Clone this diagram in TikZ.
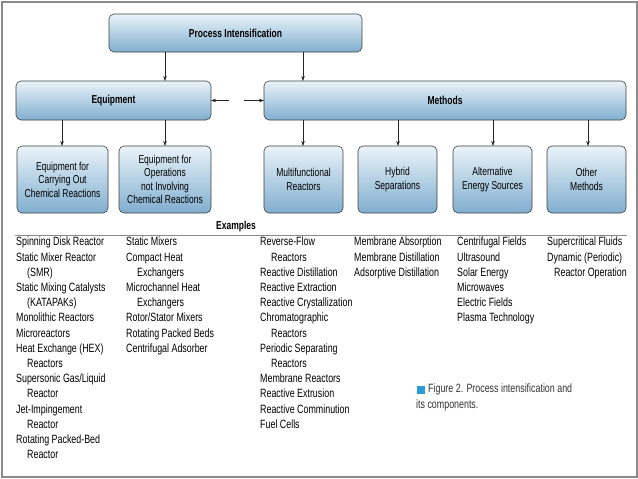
\documentclass[tikz,border=0pt]{standalone}
\usepackage{fontspec}
\setmainfont{Liberation Sans}[FakeStretch=0.74]
\usetikzlibrary{arrows.meta}
\definecolor{frm}{HTML}{8A8A8A}
\definecolor{btop}{HTML}{EAF3F9}
\definecolor{bbot}{HTML}{80AECF}
\definecolor{capblue}{HTML}{2E9BD6}
\begin{document}
\begin{tikzpicture}[x=1pt,y=-1pt,
  box/.style={draw=black!75,line width=0.6pt,rounded corners=5pt,top color=btop,bottom color=bbot,
    anchor=north west,inner sep=0pt,outer sep=0pt,align=center,font=\fontsize{11.5}{13.5}\selectfont},
  hdr/.style={box,font=\fontsize{11.5}{13.5}\selectfont\bfseries},
  arr/.style={-{Stealth[length=5pt,width=3.5pt]},line width=0.5pt,black!85},
  lst/.style={anchor=north west,inner sep=0pt,align=left,font=\fontsize{12}{15.2}\selectfont}]
\useasboundingbox (0,0) rectangle (638,479);
\fill[white] (0,0) rectangle (638,479);
\draw[frm,line width=2pt] (1.5,1.5) rectangle (636.5,477);
\node[hdr,minimum width=253,minimum height=38] (pi) at (109,14) {Process Intensification};
\node[hdr,minimum width=195,minimum height=39] (eq) at (16,81) {Equipment};
\node[hdr,minimum width=362,minimum height=39] (me) at (264,81) {Methods};
\node[box,minimum width=91,minimum height=67] (b1) at (17,146) {Equipment for\\Carrying Out\\Chemical Reactions};
\node[box,minimum width=92,minimum height=67] (b2) at (119,146) {Equipment for\\Operations\\not Involving\\Chemical Reactions};
\node[box,minimum width=79,minimum height=67] (b3) at (264,146) {Multifunctional\\Reactors};
\node[box,minimum width=79,minimum height=67] (b4) at (358,146) {Hybrid\\Separations};
\node[box,minimum width=79,minimum height=67] (b5) at (453,146) {Alternative\\Energy Sources};
\node[box,minimum width=79,minimum height=67] (b6) at (547,146) {Other\\Methods};
\draw[arr] (165,52) -- (165,81);
\draw[arr] (303,52) -- (303,81);
\coordinate (dl) at (229,100.5);
\coordinate (dr) at (244,100.5);
\draw[arr] (dl) -- (eq.east);
\draw[arr] (dr) -- (me.west);
\draw[arr] (62,120) -- (62,146);
\draw[arr] (165,120) -- (165,146);
\draw[arr] (303,120) -- (303,146);
\draw[arr] (398,120) -- (398,146);
\draw[arr] (493,120) -- (493,146);
\draw[arr] (588,120) -- (588,146);
\node[anchor=south,inner sep=0pt,font=\fontsize{11.5}{13.5}\selectfont\bfseries] (ex) at (236,232) {Examples};
\draw[frm,line width=1pt] (15,235) -- (627,235);
\def\ind{\hspace*{11pt}}
\node[lst] (c1) at (16,237) {Spinning Disk Reactor\\Static Mixer Reactor\\\ind(SMR)\\Static Mixing Catalysts\\\ind(KATAPAKs)\\Monolithic Reactors\\Microreactors\\Heat Exchange (HEX)\\\ind Reactors\\Supersonic Gas/Liquid\\\ind Reactor\\Jet-Impingement\\\ind Reactor\\Rotating Packed-Bed\\\ind Reactor};
\node[lst] (c2) at (126,237) {Static Mixers\\Compact Heat\\\ind Exchangers\\Microchannel Heat\\\ind Exchangers\\Rotor/Stator Mixers\\Rotating Packed Beds\\Centrifugal Adsorber};
\node[lst] (c3) at (260,237) {Reverse-Flow\\\ind Reactors\\Reactive Distillation\\Reactive Extraction\\Reactive Crystallization\\Chromatographic\\\ind Reactors\\Periodic Separating\\\ind Reactors\\Membrane Reactors\\Reactive Extrusion\\Reactive Comminution\\Fuel Cells};
\node[lst] (c4) at (354,237) {Membrane Absorption\\Membrane Distillation\\Adsorptive Distillation};
\node[lst] (c5) at (457,237) {Centrifugal Fields\\Ultrasound\\Solar Energy\\Microwaves\\Electric Fields\\Plasma Technology};
\node[lst] (c6) at (547,237) {Supercritical Fluids\\Dynamic (Periodic)\\\hspace*{7pt}Reactor Operation};
\fill[capblue] (417,385.5) rectangle (425,393.5);
\node[lst,text=black!80] (capt) at (416,384) {\hspace*{12pt}Figure 2. Process intensification and\\its components.};
\end{tikzpicture}
\end{document}
